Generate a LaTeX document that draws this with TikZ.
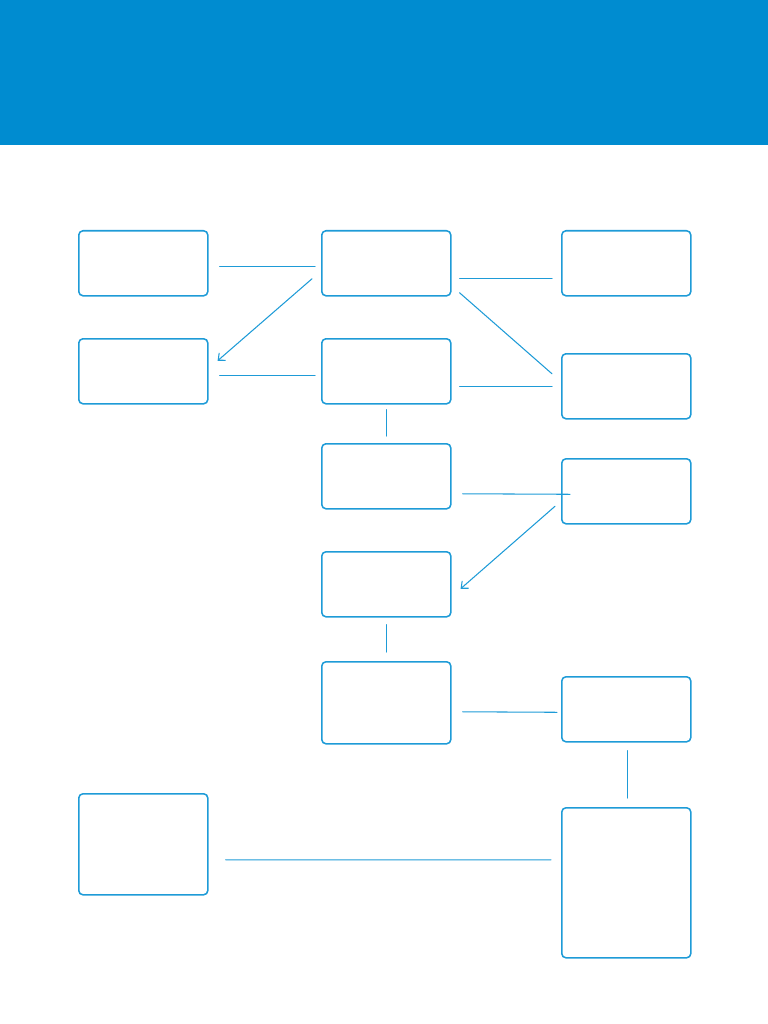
\documentclass[tikz,border=0pt]{standalone}
\usepackage{tikz}
\usetikzlibrary{arrows.meta}
\usetikzlibrary{calc}
\definecolor{headblue}{RGB}{0,140,208}
\definecolor{lineblue}{RGB}{30,155,215}
\tikzset{
  box/.style={draw=lineblue,line width=1.1pt,rounded corners=3pt,inner sep=0pt,
    minimum width=3.225cm,minimum height=1.625cm,anchor=north west},
  link/.style={draw=lineblue,line width=0.75pt}
}

\begin{document}
\begin{tikzpicture}[line cap=round,line join=round,>={Straight Barb[length=4pt,width=7pt]},x=0.025cm,y=-0.025cm]
\useasboundingbox (0,0) rectangle (768,1024);
\fill[headblue] (0,0) rectangle (768,145);
% left column
\node[box] (intake) at (78,230) {};
\node[box] (review) at (78,338) {};
\node[box,minimum height=2.525cm] (archive) at (78,793) {};
% middle column
\node[box] (start) at (321,230) {};
\node[box] (check) at (321,338) {};
\node[box] (prepare) at (321,443) {};
\node[box] (revise) at (321,551) {};
\node[box,minimum height=2.05cm] (approve) at (321,661) {};
% right column
\node[box] (notify) at (561,230) {};
\node[box] (assess) at (561,353) {};
\node[box] (verify) at (561,458) {};
\node[box] (release) at (561,676) {};
\node[box,minimum height=3.75cm] (close) at (561,807) {};
% connectors
\draw[link] ($(intake.east)+(11,3.5)$) -- ($(start.west)+(-6,3.5)$);
\draw[link,->] ($(start.west)+(-9,15.5)$) -- ($(review.east)+(9,-10.5)$);
\draw[link] ($(review.east)+(11,4.5)$) -- ($(check.west)+(-6,4.5)$);
\draw[link] ($(start.east)+(8,15.5)$) -- ($(notify.west)+(-9,15.5)$);
\draw[link] ($(start.east)+(8,29.5)$) -- ($(assess.west)+(-9,-12.5)$);
\draw[link] ($(check.east)+(8,15.5)$) -- ($(assess.west)+(-9,0.5)$);
\draw[link] ($(check.south)+(0,5)$) -- ($(prepare.north)+(0,-7)$);
\draw[link] ($(prepare.east)+(11,17.5)$) -- ($(verify.west)+(9,3)$);
\draw[link,->] ($(verify.west)+(-6,15)$) -- ($(revise.east)+(9,4.5)$);
\draw[link] ($(revise.south)+(0,7)$) -- ($(approve.north)+(0,-9)$);
\draw[link] ($(approve.east)+(11,9)$) -- ($(release.west)+(-4,3)$);
\draw[link] ($(release.south)+(1.5,8)$) -- ($(close.north)+(1.5,-9)$);
\draw[link] ($(archive.east)+(17,15.5)$) -- ($(close.west)+(-10,-23)$);
\end{tikzpicture}
\end{document}
